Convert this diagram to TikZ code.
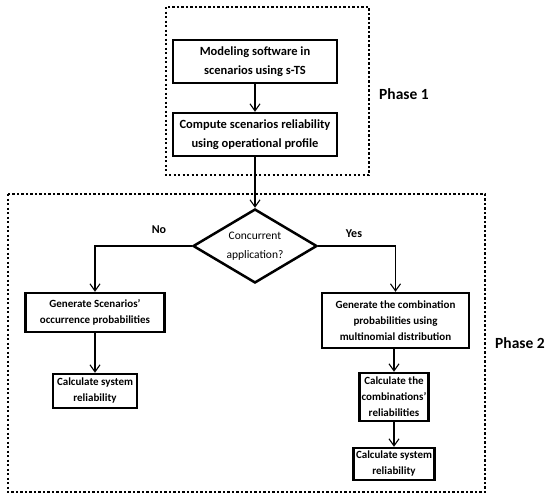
\documentclass[tikz,border=0pt]{standalone}
\usepackage{fontspec}
\setmainfont{Carlito}
\usetikzlibrary{shapes.geometric,arrows.meta}
\begin{document}
\begin{tikzpicture}[x=1pt,y=-1pt,
  phase/.style={line width=2.5pt,dash pattern=on 2.2pt off 2.3pt},
  box/.style={draw,line width=2.5pt,align=center,inner sep=0pt,font=\bfseries\fontsize{11}{16}\selectfont},
  bigbox/.style={box,font=\bfseries\fontsize{12.5}{19}\selectfont},
  dec/.style={draw,diamond,line width=2.5pt,align=center,inner sep=0pt,font=\fontsize{11.5}{19}\selectfont},
  conn/.style={line width=1.1pt,-{Straight Barb[length=7pt,width=10pt,line width=1.1pt]}},
  lbl/.style={font=\bfseries\fontsize{12}{14}\selectfont},
  phl/.style={font=\bfseries\fontsize{15.5}{18}\selectfont}]
\useasboundingbox (0,0) rectangle (550,504);
\draw[phase] (166,7) rectangle (369,175);
\draw[phase] (8,194) rectangle (485,492);
\node[bigbox,minimum width=164pt,minimum height=43pt] (m) at (255,61.5) {Modeling software in\\scenarios using s-TS};
\node[bigbox,minimum width=164pt,minimum height=43pt] (c) at (255,134.5) {Compute scenarios reliability\\using operational profile};
\node[dec,minimum width=124pt,minimum height=74pt,shape aspect=1.68] (d) at (255,246) {Concurrent\\application?};
\node[box,minimum width=139pt,minimum height=39pt] (l1) at (95,312.5) {Generate Scenarios'\\occurrence probabilities};
\node[box,minimum width=84pt,minimum height=34pt] (l2) at (95,391) {Calculate system\\reliability};
\node[box,minimum width=147pt,minimum height=55pt] (r1) at (395.5,320.5) {Generate the combination\\probabilities using\\multinomial distribution};
\node[box,minimum width=69pt,minimum height=48pt] (r2) at (394,397) {Calculate the\\combinations'\\reliabilities};
\node[box,minimum width=81pt,minimum height=32pt] (r3) at (394,464) {Calculate system\\reliability};
\draw[conn] (m) -- (c);
\draw[conn] (c) -- (d);
\draw[conn] (d.west) -| (l1.north);
\draw[conn] (d.east) -| (r1.north);
\draw[conn] (l1) -- (l2);
\draw[conn] (r1.south -| r2) -- (r2);
\draw[conn] (r2) -- (r3);
\node[lbl] (no) at (159,230) {No};
\node[lbl] (yes) at (354,234) {Yes};
\node[phl] (p1) at (404,94) {Phase 1};
\node[phl] (p2) at (520,343) {Phase 2};
\end{tikzpicture}
\end{document}
